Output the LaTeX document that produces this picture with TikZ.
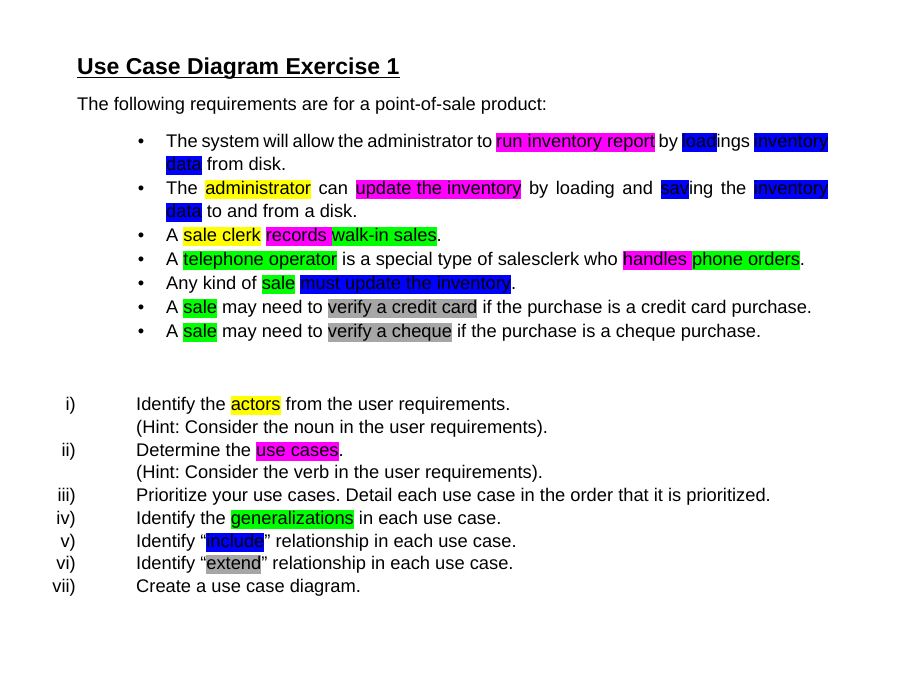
\documentclass[tikz,border=0pt]{standalone}
\usepackage{fontspec}
\setmainfont{Liberation Sans}
\frenchspacing
\definecolor{hm}{HTML}{FF00FF}
\definecolor{hb}{HTML}{0000FF}
\definecolor{hy}{HTML}{FFFF00}
\definecolor{hg}{HTML}{00FF00}
\definecolor{hs}{HTML}{A6A6A6}
\newcommand{\hlx}[2]{{\setlength{\fboxsep}{0pt}\colorbox{#1}{\rule[-0.28em]{0pt}{1.02em}#2}}}
\begin{document}
\begin{tikzpicture}[x=1pt,y=-1pt,
  txt/.style={anchor=base west,inner sep=0pt,font=\fontsize{18.3}{21}\selectfont},
  num/.style={anchor=base east,inner sep=0pt,font=\fontsize{18.3}{21}\selectfont},
  bul/.style={anchor=base,inner sep=0pt,font=\fontsize{18.3}{21}\selectfont}]
\useasboundingbox (0,0) rectangle (900,691);
\fill[white] (0,0) rectangle (900,691);
\node[txt,font=\bfseries\fontsize{23}{26}\selectfont] (title) at (77,74) {Use Case Diagram Exercise 1};
\draw[line width=1.7pt] ([yshift=-3.5pt]title.base west) -- ([yshift=-3.5pt]title.base east);
\node[txt] (intro) at (77,110) {The following requirements are for a point-of-sale product:};
% bullets
\foreach \y/\n in {147/b1,194/b2,241/b3,265/b4,289/b5,313/b6,337/b7}
  \node[bul] (\n) at (141,\y) {\textbullet};
\node[txt] (l1) at (166,147) {\makebox[662pt][s]{The system will allow the administrator to \hlx{hm}{run inventory report} by \hlx{hb}{load}ings \hlx{hb}{inventory}}};
\node[txt] (l1b) at (166,170) {\hlx{hb}{data} from disk.};
\node[txt] (l2) at (166,194) {\makebox[662pt][s]{The \hlx{hy}{administrator} can \hlx{hm}{update\ the\ inventory} by loading and \hlx{hb}{sav}ing the \hlx{hb}{inventory}}};
\node[txt] (l2b) at (166,217) {\hlx{hb}{data} to and from a disk.};
\node[txt] (l3) at (166,241) {A \hlx{hy}{sale clerk} \hlx{hm}{records }\hlx{hg}{walk-in sales}.};
\node[txt] (l4) at (166,265) {A \hlx{hg}{telephone operator} is a special type of salesclerk who \hlx{hm}{handles }\hlx{hg}{phone orders}.};
\node[txt] (l5) at (166,289) {Any kind of \hlx{hg}{sale} \hlx{hb}{must update the inventory}.};
\node[txt] (l6) at (166,313) {A \hlx{hg}{sale} may need to \hlx{hs}{verify a credit card} if the purchase is a credit card purchase.};
\node[txt] (l7) at (166,337) {A \hlx{hg}{sale} may need to \hlx{hs}{verify a cheque} if the purchase is a cheque purchase.};
% questions
\node[num] (n1) at (76,410) {i)};
\node[txt] (q1) at (136,410) {Identify the \hlx{hy}{actors} from the user requirements.};
\node[txt] (q1b) at (136,433) {(Hint: Consider the noun in the user requirements).};
\node[num] (n2) at (76,456) {ii)};
\node[txt] (q2) at (136,456) {Determine the \hlx{hm}{use cases}.};
\node[txt] (q2b) at (136,478) {(Hint: Consider the verb in the user requirements).};
\node[num] (n3) at (76,501) {iii)};
\node[txt] (q3) at (136,501) {Prioritize your use cases. Detail each use case in the order that it is prioritized.};
\node[num] (n4) at (76,524) {iv)};
\node[txt] (q4) at (136,524) {Identify the \hlx{hg}{generalizations} in each use case.};
\node[num] (n5) at (76,547) {v)};
\node[txt] (q5) at (136,547) {Identify “\hlx{hb}{include}” relationship in each use case.};
\node[num] (n6) at (76,569) {vi)};
\node[txt] (q6) at (136,569) {Identify “\hlx{hs}{extend}” relationship in each use case.};
\node[num] (n7) at (76,592) {vii)};
\node[txt] (q7) at (136,592) {Create a use case diagram.};
\end{tikzpicture}
\end{document}
